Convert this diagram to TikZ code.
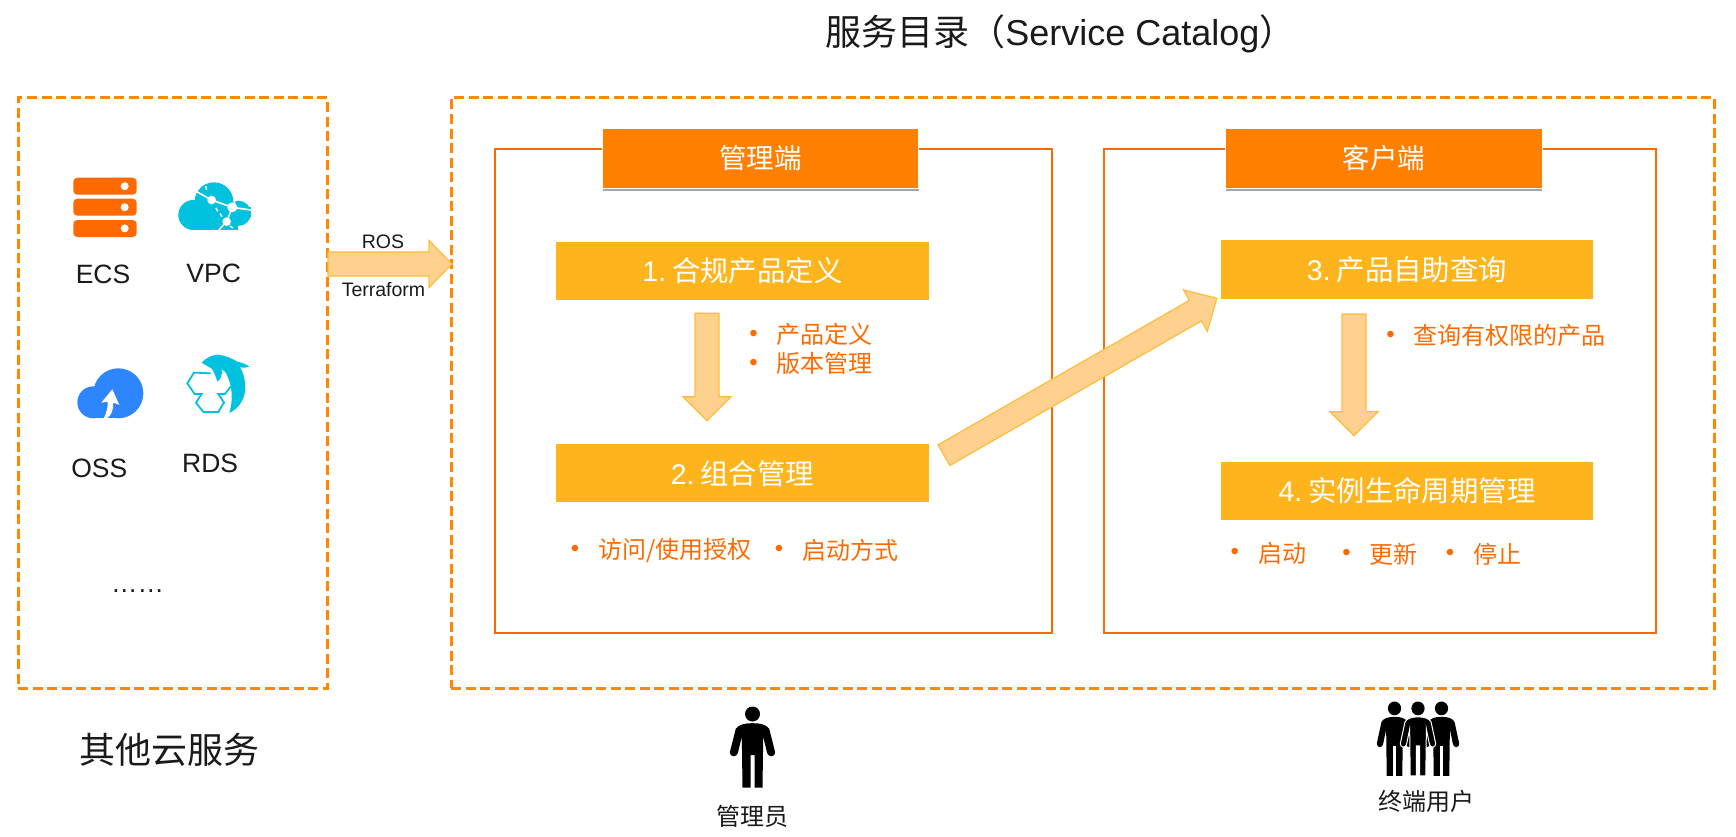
\documentclass[tikz,border=0pt]{standalone}
\usepackage{fontspec}
\setmainfont{Liberation Sans}
\newfontfamily\cjk{Noto Sans CJK SC}
\usetikzlibrary{calc}
\definecolor{dashor}{HTML}{FF8800}
\definecolor{lineor}{HTML}{FF6A00}
\definecolor{heador}{HTML}{FF8000}
\definecolor{boxor}{HTML}{FEB41C}
\definecolor{arrfill}{HTML}{FFD18F}
\definecolor{arrline}{HTML}{FFBC3C}
\definecolor{inktext}{HTML}{1A1A1A}
\definecolor{teal}{HTML}{00C1DE}
\definecolor{ossblue}{HTML}{2E86FF}
\newcommand{\zh}[1]{{\cjk #1}}
\newcommand{\fs}[1]{\fontsize{#1}{#1}\selectfont}
\newcommand{\blockarrow}[5]{%
  \coordinate (hb) at ($(#2)!#5!(#1)$);
  \draw[blockarrowstyle]
    ($(#1)!#3!90:(#2)$) -- ($(hb)!#3!90:(#2)$) -- ($(hb)!#4!90:(#2)$) -- (#2)
    -- ($(hb)!#4!-90:(#2)$) -- ($(hb)!#3!-90:(#2)$) -- ($(#1)!#3!-90:(#2)$) -- cycle;
}
\tikzset{
  dashbox/.style={draw=dashor,line width=3pt,dash pattern=on 10pt off 4.5pt},
  innerbox/.style={draw=lineor,line width=2pt},
  blockarrowstyle/.style={fill=arrfill,draw=arrline,line width=1.2pt,line join=miter},
  stepbox/.style={fill=boxor,text=white,inner sep=0pt,minimum width=373pt,minimum height=58pt,font=\fs{28.4}},
  headbox/.style={fill=heador,draw=white,line width=1pt,text=white,inner sep=0pt,font=\fs{27.5}\cjk},
  shadowbox/.style={fill=gray!70,draw=none},
  bul/.style={text=lineor,inner sep=0pt,font=\fs{24},anchor=center},
  note/.style={text=lineor,inner sep=0pt,font=\fs{24}\cjk,anchor=west},
  lab/.style={text=inktext,inner sep=0pt,font=\fs{26.5},anchor=center},
  small/.style={text=inktext,inner sep=0pt,font=\fs{19.5},anchor=center},
  pics/person/.style 2 args={code={
    \fill (0,7.3) ellipse [x radius=#1,y radius=7.5];
    \path[fill=black,draw=#2,line width=1pt] (0,16.5) .. controls (8,16.5) and (14,18) .. (16.7,22) -- (22.7,45.7)
      .. controls (22.7,50) and (16,52) .. (14.3,45) -- (10.7,30) -- (10,81) -- (2,81) -- (2,48.3)
      -- (-2,48.3) -- (-2,81) -- (-10,81) -- (-10.7,30) -- (-14.3,45)
      .. controls (-16,52) and (-22.7,50) .. (-22.7,45.7) -- (-16.7,22)
      .. controls (-14,18) and (-8,16.5) .. (0,16.5) -- cycle;
  }}
}
\begin{document}
\begin{tikzpicture}[x=1pt,y=-1pt]
\useasboundingbox (0,0) rectangle (1736,837);
% title
\node[inner sep=0pt,text=inktext,font=\fs{36}] (title) at (1060.5,34) {\zh{服务目录（}Service Catalog\zh{）}};
% dashed frames
\node[dashbox,inner sep=0pt,minimum width=309pt,minimum height=590pt] (left) at (172.5,393) {};
\node[dashbox,inner sep=0pt,minimum width=1263pt,minimum height=590pt] (svc) at (1082.5,393) {};
% inner frames
\node[innerbox,inner sep=0pt,minimum width=556.5pt,minimum height=484pt] (adm) at (773.7,391.2) {};
\node[innerbox,inner sep=0pt,minimum width=552.2pt,minimum height=484pt] (cus) at (1379.9,391.2) {};
% header
\fill[shadowbox] (602.5,131) rectangle (918.6,191);
\node[headbox,minimum width=316pt,minimum height=60pt] (hadm) at (760.5,158.4) {管理端};
\fill[shadowbox] (1225.6,131) rectangle (1542.3,191);
\node[headbox,minimum width=316.7pt,minimum height=60pt] (hcus) at (1384,158.4) {客户端};
% steps
\node[stepbox] (s1) at (742.5,271) {\raisebox{-2pt}{1.\hspace{6pt}\zh{合规产品定义}}};
\node[stepbox] (s2) at (742.5,473.3) {\raisebox{-2pt}{2.\hspace{6pt}\zh{组合管理}}};
\node[stepbox,minimum width=372pt,minimum height=59pt] (s3) at (1407,269.3) {\raisebox{-2pt}{3.\hspace{6pt}\zh{产品自助查询}}};
\node[stepbox,minimum width=372pt] (s4) at (1407,491) {\raisebox{-2pt}{4.\hspace{6pt}\zh{实例生命周期管理}}};
% block arrows
\coordinate (a0s) at (328,264); \coordinate (a0e) at (452,264);
\coordinate (a1s) at (707,313.3); \coordinate (a1e) at (707,420.7);
\coordinate (a2s) at (943.9,455.2); \coordinate (a2e) at (1216.8,298.3);
\coordinate (a3s) at (1354,314); \coordinate (a3e) at (1354,435.7);
\blockarrow{a0s}{a0e}{12pt}{23.5pt}{23pt}
\blockarrow{a1s}{a1e}{12pt}{24pt}{24pt}
\blockarrow{a2s}{a2e}{11.9pt}{23.9pt}{24.7pt}
\blockarrow{a3s}{a3e}{12pt}{24pt}{24pt}
% arrow labels
\node[small] (ros) at (383,241.7) {ROS};
\node[small] (tf) at (383.5,290) {Terraform};
% notes
\node[bul] (b1) at (753.6,336) {•};
\node[note] (n1) at (776.6,334) {产品定义};
\node[bul] (b2) at (753.6,364.7) {•};
\node[note] (n2) at (776.6,363.7) {版本管理};
\node[bul] (b3) at (575,550.7) {•};
\node[note] (n3) at (597.9,550.7) {访问/使用授权};
\node[bul] (b4) at (779,550.7) {•};
\node[note] (n4) at (802.6,550.7) {启动方式};
\node[bul] (b5) at (1390.5,337) {•};
\node[note] (n5) at (1413,335) {查询有权限的产品};
\node[bul] (b6) at (1234.8,554) {•};
\node[note] (n6) at (1257.8,553) {启动};
\node[bul] (b7) at (1346.5,555) {•};
\node[note] (n7) at (1369.5,554) {更新};
\node[bul] (b8) at (1450,555) {•};
\node[note] (n8) at (1473,554) {停止};
% left labels
\node[lab] (ecs) at (103,274.5) {ECS};
\node[lab] (vpc) at (213.7,273.7) {VPC};
\node[lab] (oss) at (99.3,468.7) {OSS};
\node[lab] (rds) at (210.2,463.7) {RDS};
\node[lab] (dots) at (137.5,591) {……};
\node[inner sep=0pt,text=inktext,font=\fs{36}\cjk] (other) at (169.5,749.5) {其他云服务};
% ECS icon
\foreach \yy/\dd in {177.7/186.2,198.7/207.2,220/228.4}{
  \fill[lineor,rounded corners=4pt] (73.3,\yy) rectangle (136.7,\yy+17);
  \fill[white] (124.7,\dd) circle (4);
}
% VPC, OSS and RDS icons, drawn in 3x crop units
\begin{scope}[shift={(0,80)},x=.3333pt,y=-.3333pt]
  \fill[teal] (580,405) circle (45);
  \fill[teal] (642,365) circle (58);
  \fill[teal] (715,400) circle (38);
  \fill[teal] (580,400) rectangle (715,450);
  \fill[teal] (700,380) rectangle (753,410);
  \draw[white,line width=1.6pt] (590,335) -- (635,360) -- (697,382) -- (680,425) -- (655,452);
  \draw[white,line width=1.6pt] (697,382) -- (710,350);
  \draw[white,line width=1.6pt] (697,382) -- (753,390);
  \fill[white] (635,360) circle (13);
  \fill[white] (697,382) circle (15);
  \fill[white] (680,425) circle (13);
  \draw[white,line width=1.4pt] (617,318) -- (620,330);
  \draw[white,line width=1.4pt] (648,384) -- (653,394);
  \draw[white,line width=1.4pt] (660,400) -- (666,410);
  \draw[white,line width=1.4pt] (690,438) -- (698,444);
  % OSS
  \fill[ossblue] (355,940) circle (75);
  \fill[ossblue] (280,967) circle (48);
  \fill[ossblue] (280,990) rectangle (355,1015);
  \fill[white] (337,928) -- (358,975) -- (340,968) .. controls (340,990) and (335,1005) .. (322,1014) -- (312,1014)
     .. controls (320,998) and (324,980) .. (323,965) -- (304,968) -- cycle;
  % RDS
  \fill[teal] (605,848) .. controls (620,832) and (640,822) .. (660,825)
     .. controls (680,828) and (700,838) .. (712,845) .. controls (725,848) and (738,852) .. (748,860)
     .. controls (738,864) and (728,864) .. (720,862) .. controls (738,890) and (742,935) .. (725,965)
     .. controls (715,982) and (703,992) .. (688,999) .. controls (700,960) and (697,920) .. (682,888)
     .. controls (678,878) and (672,870) .. (665,868) .. controls (668,885) and (662,898) .. (652,905)
     .. controls (648,890) and (642,875) .. (634,865) .. controls (622,858) and (612,853) .. (605,848) -- cycle;
  \draw[teal,line width=1.8pt] (632,880) -- (582,878) -- (562,910) -- (584,942) -- (605,942)
     -- (588,968) -- (610,996) -- (655,996) -- (672,968) -- (655,942) -- (675,942) -- (692,920);
\end{scope}
% people
\pic[black] (admin) at (752.5,706.7) {person={7.5}{none}};
\pic[black,xscale=.78,yscale=.917] (u1) at (1394.5,701.7) {person={8.5}{none}};
\pic[black,xscale=.78,yscale=.917] (u3) at (1441.5,701.7) {person={8.5}{none}};
\pic[black,xscale=.78,yscale=.917] (u2) at (1418,701.7) {person={8.5}{white}};
\node[inner sep=0pt,text=inktext,font=\fs{24}\cjk] (tadm) at (752.5,816) {管理员};
\node[inner sep=0pt,text=inktext,font=\fs{24}\cjk] (tusr) at (1426.5,801) {终端用户};
\end{tikzpicture}
\end{document}
